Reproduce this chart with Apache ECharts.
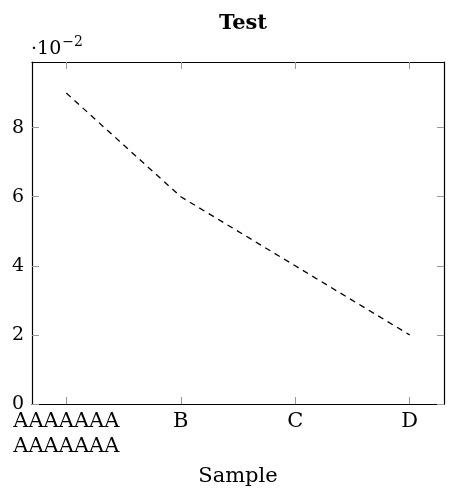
<!DOCTYPE html>
<html><head><meta charset="utf-8">
<script src="https://cdn.jsdelivr.net/npm/echarts@6/dist/echarts.min.js"></script>
<style>html,body{margin:0;padding:0;background:#fff}#c{width:474px;height:502px}</style>
</head><body><div id="c"></div>
<script>
const categories = ['AAAAAAA\nAAAAAAA', 'B', 'C', 'D'];
const values = [0.09, 0.06, 0.04, 0.02];
const yTicks = [0, 0.02, 0.04, 0.06, 0.08];
const yTickLabels = ['0', '2', '4', '6', '8'];
const xTicks = categories.map((c, i) => i);

const font = 'DejaVu Serif';
const chart = echarts.init(document.getElementById('c'));
const tickStyle = {show: true, inside: true, length: 7, lineStyle: {color: '#999', width: 1}};
chart.setOption({
  animation: false,
  title: {text: 'Test', left: 238, top: 8, textAlign: 'center',
    textStyle: {fontFamily: font, fontWeight: 'bold', fontSize: 21, color: '#000'}},
  graphic: [{type: 'text', left: 31, top: 35, style: {
    text: '{a|·10}{b|−2}', rich: {
      a: {fontFamily: font, fontSize: 19, fill: '#000', verticalAlign: 'bottom'},
      b: {fontFamily: font, fontSize: 14, fill: '#000', verticalAlign: 'top', padding: [0,0,10,1]}
    }}}],
  grid: {left: 32, right: 30, top: 62, bottom: 98, containLabel: false},
  xAxis: [{
    type: 'value', min: -0.3, max: 3.3, position: 'bottom',
    name: 'Sample', nameLocation: 'middle', nameGap: 62,
    nameTextStyle: {fontFamily: font, fontSize: 21, color: '#000'},
    axisLine: {show: true, onZero: false, lineStyle: {color: '#000', width: 1.2}},
    axisTick: Object.assign({customValues: xTicks}, tickStyle),
    axisLabel: {customValues: xTicks, formatter: v => categories[Math.round(v)],
      fontFamily: font, fontSize: 21, color: '#000', margin: 5, lineHeight: 25},
    splitLine: {show: false}
  }, {
    type: 'value', min: -0.3, max: 3.3, position: 'top',
    axisLine: {show: true, onZero: false, lineStyle: {color: '#000', width: 1.2}},
    axisTick: Object.assign({customValues: xTicks}, tickStyle),
    axisLabel: {show: false}, splitLine: {show: false}
  }],
  yAxis: [{
    type: 'value', min: 0, max: 0.099, position: 'left',
    axisLine: {show: true, onZero: false, lineStyle: {color: '#000', width: 1.2}},
    axisTick: Object.assign({customValues: yTicks}, tickStyle),
    axisLabel: {customValues: yTicks, formatter: v => yTickLabels[yTicks.findIndex(t => Math.abs(t - v) < 1e-9)],
      fontFamily: font, fontSize: 19, color: '#000', margin: 8},
    splitLine: {show: false}
  }, {
    type: 'value', min: 0, max: 0.099, position: 'right',
    axisLine: {show: true, onZero: false, lineStyle: {color: '#000', width: 1.2}},
    axisTick: Object.assign({customValues: yTicks}, tickStyle),
    axisLabel: {show: false}, splitLine: {show: false}
  }],
  series: [{
    type: 'line', xAxisIndex: 0, yAxisIndex: 0,
    data: values.map((v, i) => [i, v]),
    symbol: 'none',
    lineStyle: {color: '#000', width: 1.3, type: [6, 5]}
  }]
});
</script></body></html>
